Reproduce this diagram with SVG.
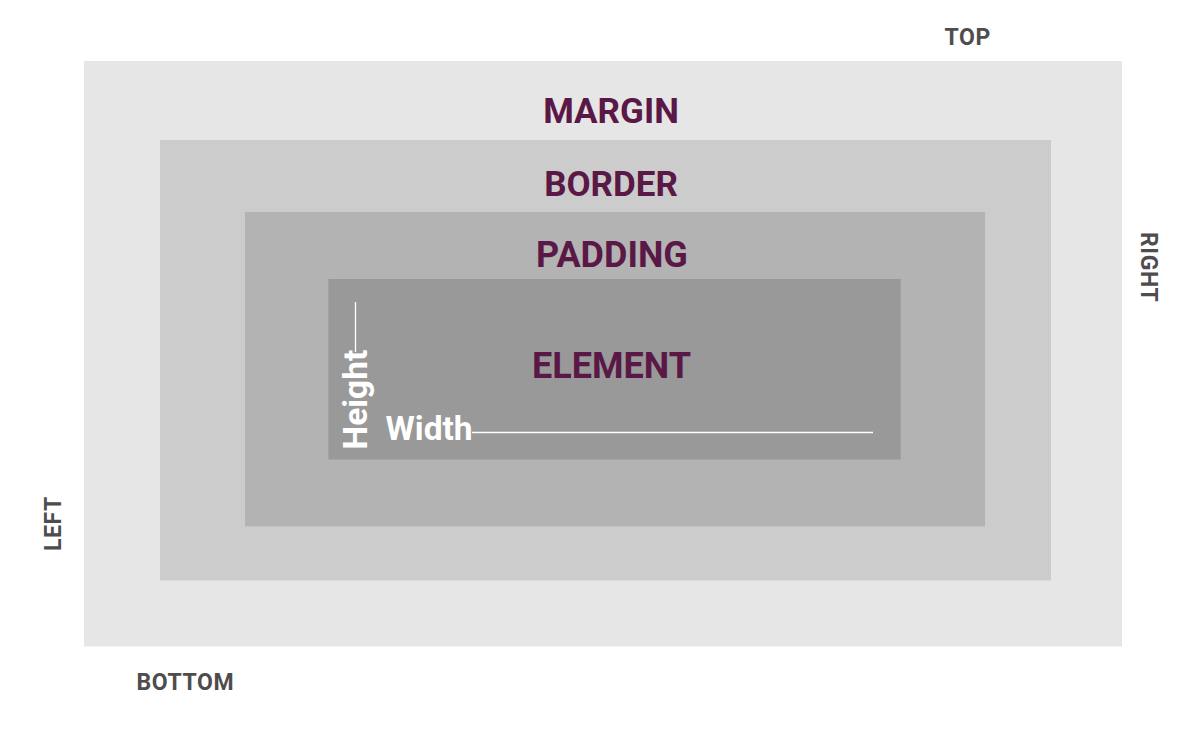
<svg xmlns="http://www.w3.org/2000/svg" width="1200" height="744" viewBox="0 0 1200 744">
<style>
.t{font-family:Roboto,"Liberation Sans",sans-serif;font-weight:bold}
.box{fill:#5a1846;font-size:35px;text-anchor:middle}
.big{font-size:36px}
.side{fill:#4d4d4d;font-size:23px;letter-spacing:0.6px}
.dim{fill:#ffffff;font-size:33.5px}
.ln{stroke:#ffffff;stroke-width:1.3;fill:none}
</style>
<rect width="1200" height="744" fill="#ffffff"/>
<g id="margin">
<rect x="84" y="61" width="1038" height="585.5" fill="#e6e6e6"/>
<text class="t box" x="611" y="122.5">MARGIN</text>
</g>
<g id="border">
<rect x="160" y="140" width="891" height="440.5" fill="#cccccc"/>
<text class="t box" x="611" y="196">BORDER</text>
</g>
<g id="padding">
<rect x="245" y="212" width="740" height="314.3" fill="#b3b3b3"/>
<text class="t box big" x="612" y="266.5">PADDING</text>
</g>
<g id="element">
<rect x="328.4" y="279" width="572.3" height="180.5" fill="#999999"/>
<text class="t box big" x="611.5" y="378">ELEMENT</text>
</g>
<g id="connectors">
<line class="ln" x1="355.5" y1="302" x2="355.5" y2="352"/>
<line class="ln" x1="472" y1="432.5" x2="873" y2="432.5"/>
</g>
<g id="height-label">
<text class="t dim" transform="translate(366.5 449.5) rotate(-90)" x="0" y="0">Height</text>
</g>
<g id="width-label">
<text class="t dim" x="385.5" y="439.5">Width</text>
</g>
<g id="top-label"><text class="t side" x="944.5" y="44.5">TOP</text></g>
<g id="right-label"><text class="t side" transform="translate(1141 232) rotate(90)">RIGHT</text></g>
<g id="left-label"><text class="t side" transform="translate(60.5 551) rotate(-90)">LEFT</text></g>
<g id="bottom-label"><text class="t side" x="136.5" y="690">BOTTOM</text></g>
</svg>
